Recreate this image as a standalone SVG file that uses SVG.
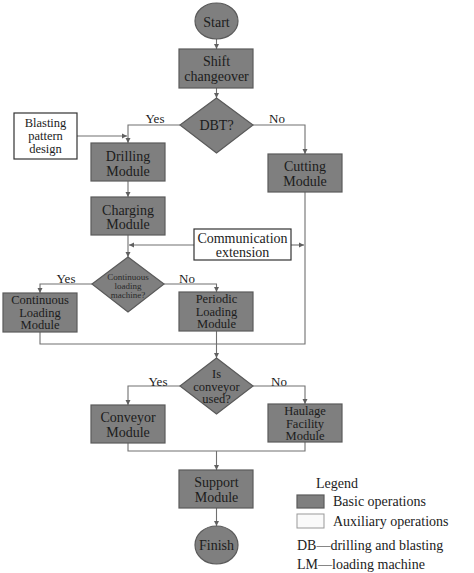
<svg xmlns="http://www.w3.org/2000/svg" width="474" height="573" viewBox="0 0 474 573">
<style>
  .basic { fill: #7f7f7f; stroke: #5a5a5a; stroke-width: 1.2; }
  .aux { fill: #ffffff; stroke: #333333; stroke-width: 1.2; }
  .t { font-family: "Liberation Serif", "DejaVu Serif", "Times New Roman", serif; font-size: 14px; fill: #1c1c1c; text-anchor: middle; dominant-baseline: central; }
  .m { font-size: 12.5px; }
  .s { font-size: 9px; fill: #2a2a2a; }
  .lab { font-family: "Liberation Serif", "DejaVu Serif", "Times New Roman", serif; font-size: 13px; fill: #1c1c1c; text-anchor: middle; dominant-baseline: central; }
  .leg { font-family: "Liberation Serif", "DejaVu Serif", "Times New Roman", serif; font-size: 14px; fill: #1c1c1c; dominant-baseline: central; }
  .ln { fill: none; stroke: #707070; stroke-width: 1.1; }
</style>
<defs>
  <marker id="arr" markerUnits="userSpaceOnUse" markerWidth="6" markerHeight="6" refX="5" refY="3" orient="auto">
    <path d="M0,0.5 L5,3 L0,5.5 Z" fill="#606060"/>
  </marker>
</defs>
<rect width="474" height="573" fill="#ffffff"/>

<g id="connectors">
  <path class="ln" d="M216.5 39 V49" marker-end="url(#arr)"/>
  <path class="ln" d="M216.5 88 V98" marker-end="url(#arr)"/>
  <path class="ln" d="M180 125 H128 V143" marker-end="url(#arr)"/>
  <path class="ln" d="M253 125 H305 V154" marker-end="url(#arr)"/>
  <path class="ln" d="M77 136 H127" marker-end="url(#arr)"/>
  <path class="ln" d="M128 181 V197" marker-end="url(#arr)"/>
  <path class="ln" d="M128 235 V257" marker-end="url(#arr)"/>
  <path class="ln" d="M194 245 H129" marker-end="url(#arr)"/>
  <path class="ln" d="M291 245 H304" marker-end="url(#arr)"/>
  <path class="ln" d="M92 284 H40 V293" marker-end="url(#arr)"/>
  <path class="ln" d="M164 284 H216.5 V292" marker-end="url(#arr)"/>
  <path class="ln" d="M40 332 V344 H305 V192"/>
  <path class="ln" d="M216.5 331 V358" marker-end="url(#arr)"/>
  <path class="ln" d="M180 386 H128 V405" marker-end="url(#arr)"/>
  <path class="ln" d="M253 386 H305 V404" marker-end="url(#arr)"/>
  <path class="ln" d="M128 443 V451 H305 V442"/>
  <path class="ln" d="M216.5 451 V470" marker-end="url(#arr)"/>
  <path class="ln" d="M216.5 508 V526" marker-end="url(#arr)"/>
  <text class="lab" x="155" y="118">Yes</text>
  <text class="lab" x="277" y="118">No</text>
  <text class="lab" x="66" y="278">Yes</text>
  <text class="lab" x="187" y="278">No</text>
  <text class="lab" x="158" y="381">Yes</text>
  <text class="lab" x="279" y="381">No</text>
</g>

<g id="start">
  <ellipse class="basic" cx="216.5" cy="21" rx="21.5" ry="18"/>
  <text class="t" x="216.5" y="22">Start</text>
</g>
<g id="shift">
  <rect class="basic" x="179" y="49" width="74" height="39"/>
  <text class="t" x="216.5" y="61">Shift</text>
  <text class="t" x="216.5" y="76">changeover</text>
</g>
<g id="dbt">
  <polygon class="basic" points="216.5,98 253,125 216.5,153 180,125"/>
  <text class="t" x="216.5" y="125">DBT?</text>
</g>
<g id="blasting">
  <rect class="aux" x="14" y="113" width="63" height="46"/>
  <text class="t m" x="45.5" y="123">Blasting</text>
  <text class="t m" x="45.5" y="136">pattern</text>
  <text class="t m" x="45.5" y="149">design</text>
</g>
<g id="drilling">
  <rect class="basic" x="91" y="143" width="74" height="38"/>
  <text class="t" x="128" y="156">Drilling</text>
  <text class="t" x="128" y="171">Module</text>
</g>
<g id="cutting">
  <rect class="basic" x="268" y="154" width="74" height="38"/>
  <text class="t" x="305" y="166">Cutting</text>
  <text class="t" x="305" y="181">Module</text>
</g>
<g id="charging">
  <rect class="basic" x="91" y="197" width="74" height="38"/>
  <text class="t" x="128" y="210">Charging</text>
  <text class="t" x="128" y="224">Module</text>
</g>
<g id="communication">
  <rect class="aux" x="194" y="229" width="97" height="31"/>
  <text class="t" x="242.5" y="238">Communication</text>
  <text class="t" x="242.5" y="252">extension</text>
</g>
<g id="clm">
  <polygon class="basic" points="128,257 164,284 128,312 92,284"/>
  <text class="t s" x="128" y="277">Continuous</text>
  <text class="t s" x="128" y="286">loading</text>
  <text class="t s" x="128" y="295">machine?</text>
</g>
<g id="continuous">
  <rect class="basic" x="3" y="293" width="74" height="39"/>
  <text class="t m" x="40" y="300">Continuous</text>
  <text class="t m" x="40" y="312.5">Loading</text>
  <text class="t m" x="40" y="325">Module</text>
</g>
<g id="periodic">
  <rect class="basic" x="179" y="292" width="74" height="39"/>
  <text class="t m" x="216.5" y="299">Periodic</text>
  <text class="t m" x="216.5" y="311.5">Loading</text>
  <text class="t m" x="216.5" y="324">Module</text>
</g>
<g id="conveyor-q">
  <polygon class="basic" points="216.5,358 253,386 216.5,414 180,386"/>
  <text class="t m" x="216.5" y="374">Is</text>
  <text class="t m" x="216.5" y="386.5">conveyor</text>
  <text class="t m" x="216.5" y="399">used?</text>
</g>
<g id="conveyor">
  <rect class="basic" x="91" y="405" width="74" height="38"/>
  <text class="t" x="128" y="417">Conveyor</text>
  <text class="t" x="128" y="432">Module</text>
</g>
<g id="haulage">
  <rect class="basic" x="268" y="404" width="74" height="38"/>
  <text class="t m" x="305" y="411">Haulage</text>
  <text class="t m" x="305" y="423.5">Facility</text>
  <text class="t m" x="305" y="436">Module</text>
</g>
<g id="support">
  <rect class="basic" x="179" y="470" width="74" height="38"/>
  <text class="t" x="216.5" y="482">Support</text>
  <text class="t" x="216.5" y="497">Module</text>
</g>
<g id="finish">
  <ellipse class="basic" cx="216.5" cy="545" rx="21.5" ry="19"/>
  <text class="t" x="216.5" y="545">Finish</text>
</g>
<g id="legend">
  <text class="leg" x="316" y="483">Legend</text>
  <rect class="basic" x="297" y="495" width="27" height="13"/>
  <text class="leg" x="333" y="501">Basic operations</text>
  <rect x="297" y="514" width="27" height="14" fill="#fafafa" stroke="#999999" stroke-width="1"/>
  <text class="leg" x="333" y="521">Auxiliary operations</text>
  <text class="leg" x="297" y="545">DB—drilling and blasting</text>
  <text class="leg" x="297" y="564">LM—loading machine</text>
</g>
</svg>
